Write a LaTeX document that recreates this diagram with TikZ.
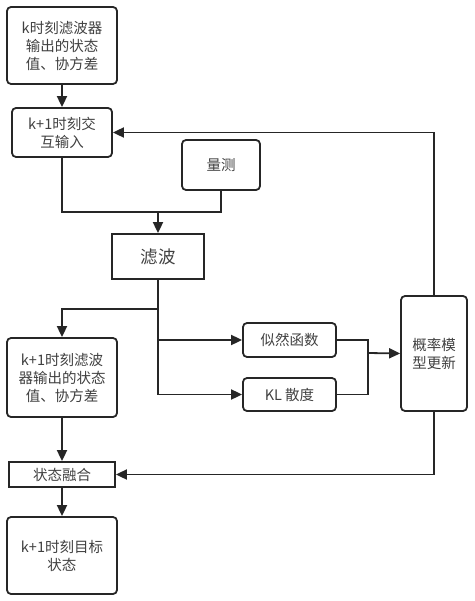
\documentclass[tikz,border=0pt]{standalone}
\usepackage{fontspec}
\setmainfont{Noto Sans CJK SC}
\usepackage{tikz}
\usetikzlibrary{arrows.meta, calc}

\tikzset{
    box/.style={draw=black!85, line width=1.8pt, rounded corners=4pt, align=center,
        inner sep=0pt, text=black!75, font=\fontsize{14.5}{18}\selectfont},
    sharpbox/.style={box, rounded corners=0pt},
    link/.style={draw=black!85, line width=1.8pt},
}

\begin{document}
\begin{tikzpicture}[x=1pt, y=-1pt, >={Triangle[length=11pt, width=10pt]}]
        \useasboundingbox (0,0) rectangle (474,601);

        \node[box, minimum width=110pt, minimum height=77pt] (prev) at (62,45.5) {k时刻滤波器\\输出的状态\\值、协方差};
        \node[box, minimum width=100pt, minimum height=49pt] (mix) at (62,132.5) {k+1时刻交\\互输入};
        \node[box, minimum width=78pt, minimum height=50pt] (meas) at (221,165) {量测};
        \node[sharpbox, minimum width=92pt, minimum height=45pt, font=\fontsize{17.5}{20}\selectfont] (filt) at (158,256.5) {滤波};
        \node[box, minimum width=93pt, minimum height=34pt] (lik) at (289.5,340) {似然函数};
        \node[box, minimum width=93pt, minimum height=33pt] (kl) at (289.5,394.5) {KL 散度};
        \node[box, minimum width=66pt, minimum height=115pt] (prob) at (434,353.5) {概率模\\型更新};
        \node[box, minimum width=110pt, minimum height=79pt] (out) at (62,377.5) {k+1时刻滤波\\器输出的状态\\值、协方差};
        \node[sharpbox, minimum width=106pt, minimum height=25pt] (fuse) at (62,474.5) {状态融合};
        \node[box, minimum width=110pt, minimum height=77pt] (target) at (62,555.5) {k+1时刻目标\\状态};

        \coordinate (join) at (158,212);
        \coordinate (split) at (158,309);
        \coordinate (merge) at (368,353);

        \draw[link, ->] (prev) -- (mix);
        \draw[link] (mix.south) |- (join) -| (meas.south);
        \draw[link, ->] (join) -- (filt.north);
        \draw[link, ->] (filt.south) -- (split) -| (out.north);
        \draw[link, ->] (split) |- (lik.west);
        \draw[link, ->] (split) |- (kl.west);
        \draw[link] (lik.east) -| (merge);
        \draw[link] (kl.east) -| (merge);
        \draw[link, ->] (merge) -- (prob.west);
        \draw[link, ->] (prob.north) |- (mix.east);
        \draw[link, ->] (prob.south) |- (fuse.east);
        \draw[link, ->] (out) -- (fuse);
        \draw[link, ->] (fuse) -- (target);

    \end{tikzpicture}
\end{document}
